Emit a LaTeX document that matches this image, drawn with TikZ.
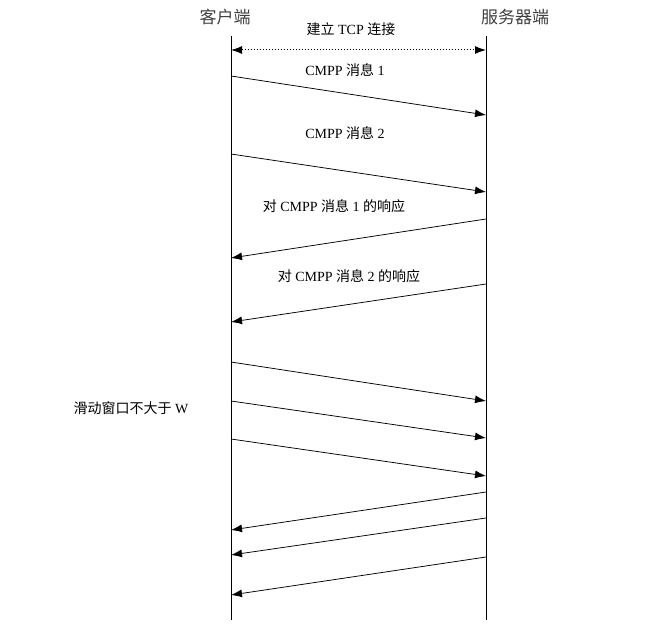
\documentclass[tikz,border=0pt]{standalone}
\usepackage{fontspec}
\setmainfont{Liberation Serif}
\newfontfamily\cjk{Noto Sans CJK SC}
\usetikzlibrary{arrows.meta}
\begin{document}
\begin{tikzpicture}[x=1pt,y=-1pt,
  msg/.style={-{Latex[length=11pt,width=8pt]},line width=0.75pt},
  lbl/.style={font=\fontsize{14}{16}\selectfont},
  hdr/.style={font=\fontsize{17}{19}\selectfont\cjk\color{black!75}}]
\useasboundingbox (0,0) rectangle (672,626);
\node[hdr] (c) at (225,17) {客户端};
\node[hdr] (s) at (515,17) {服务器端};
\coordinate (ct) at (231,36); \coordinate (cb) at (231,620);
\coordinate (st) at (486,36); \coordinate (sb) at (486,620);
\draw[line width=0.75pt] (ct) -- (cb);
\draw[line width=0.75pt] (st) -- (sb);
\coordinate (a0) at (231,50); \coordinate (b0) at (486,50);
\draw[{Latex[length=11pt,width=8pt]}-{Latex[length=11pt,width=8pt]},dotted,line width=1pt] (a0) -- (b0);
\foreach \i/\y/\z in {1/76/115,2/154/192,5/362/401,6/401/438,7/439/476}{
  \coordinate (p\i) at (231,\y); \coordinate (q\i) at (486,\z);
  \draw[msg] (p\i) -- (q\i);}
\foreach \i/\y/\z in {3/219/258,4/284/322,8/492/530,9/518/555,10/557/595}{
  \coordinate (p\i) at (486,\y); \coordinate (q\i) at (231,\z);
  \draw[msg] (p\i) -- (q\i);}
\node[lbl] (t0) at (351,29) {{\cjk 建立} TCP {\cjk 连接}};
\node[lbl] (t1) at (345,70) {CMPP {\cjk 消息} 1};
\node[lbl] (t2) at (345,133) {CMPP {\cjk 消息} 2};
\node[lbl] (t3) at (334,206) {{\cjk 对} CMPP {\cjk 消息} 1 {\cjk 的响应}};
\node[lbl] (t4) at (349,276) {{\cjk 对} CMPP {\cjk 消息} 2 {\cjk 的响应}};
\node[lbl] (t5) at (131,408) {{\cjk 滑动窗口不大于} W};
\end{tikzpicture}
\end{document}
